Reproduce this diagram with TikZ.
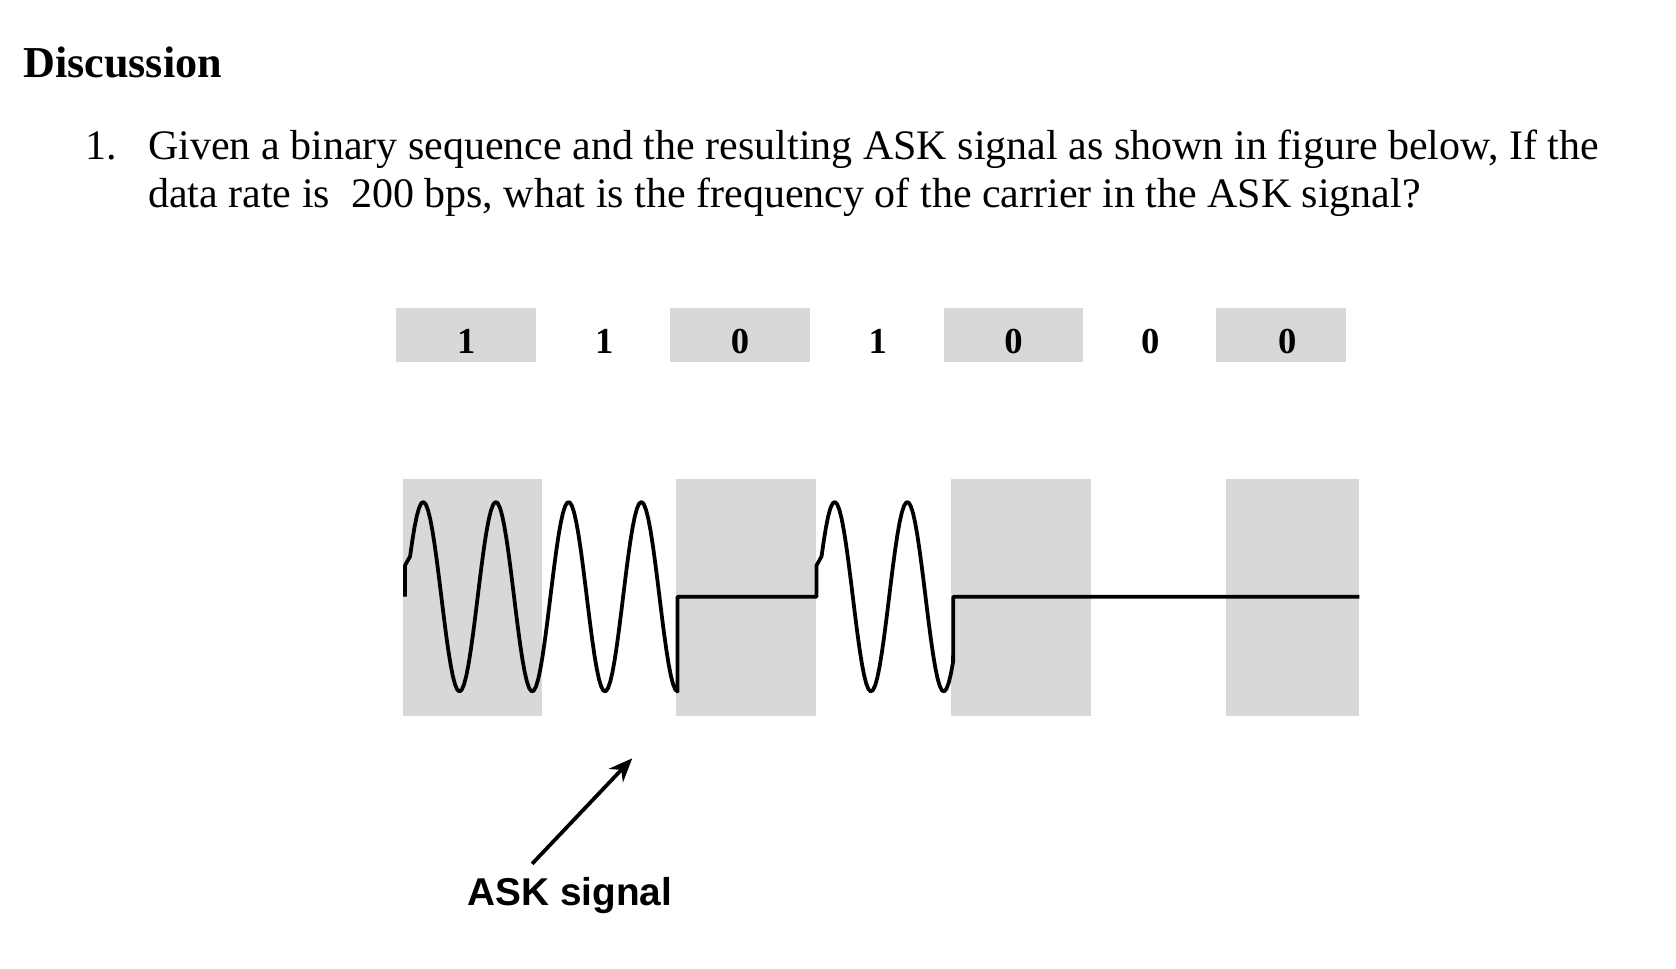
\documentclass[tikz,border=0pt]{standalone}
\usepackage{fontspec}
\setmainfont{Liberation Serif}
\newfontfamily\askfont{Liberation Sans}
\usetikzlibrary{arrows.meta}
\definecolor{boxgray}{RGB}{216,216,216}
\begin{document}
\begin{tikzpicture}[x=1pt,y=-1pt,
  bit/.style={font=\fontsize{34}{34}\selectfont\bfseries,anchor=center},
  wave/.style={line width=3.5pt,line join=round}]
\useasboundingbox[fill=white] (0,0) rectangle (1556,899);
\node[anchor=base west,font=\fontsize{41}{41}\selectfont\bfseries] (title) at (18,72) {Discussion};
\node[anchor=base west,font=\fontsize{39}{39}\selectfont] (num) at (76,148) {1.};
\node[anchor=base west,font=\fontsize{39}{39}\selectfont] (l1) at (134,148) {Given a binary sequence and the resulting ASK signal as shown in figure below, If the};
\node[anchor=base west,font=\fontsize{39}{39}\selectfont] (l2) at (134,193) {data rate is\ \ 200 bps, what is the frequency of the carrier in the ASK signal?};
% bit boxes
\foreach \a/\b in {368/498,622/752,876/1005,1129/1250}
  \fill[boxgray] (\a,286) rectangle (\b,336);
\foreach \x/\v [count=\i] in {433/1,561/1,687/0,815/1,941/0,1068/0,1195/0}
  \node[bit] (b\i) at (\x,317) {\v};
% waveform backgrounds
\foreach \a/\b in {374/503,628/758,883/1013,1138/1262}
  \fill[boxgray] (\a,445) rectangle (\b,665);
\draw[wave] (376,554) -- (376,525)
  -- plot[domain=0.07:3.75,samples=120] ({376+\x*67.5},{554-88*sin(\x*360)}) -- (629,554) -- (758,554) -- (758,525)
  -- plot[domain=0.07:1.88,samples=60] ({758+\x*67.5},{554-88*sin(\x*360)}) -- (885,554) -- (1262,554);
\coordinate (tail) at (494,802);
\coordinate (head) at (587,704);
\draw[line width=3.5pt,-{Stealth[length=22pt,width=18pt]}] (tail) -- (head);
\node[font=\askfont\fontsize{36}{36}\selectfont\bfseries] (ask) at (529,831) {ASK signal};
\end{tikzpicture}
\end{document}
